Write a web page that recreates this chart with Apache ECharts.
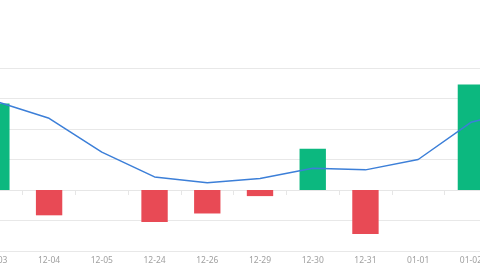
<!DOCTYPE html>
<html lang="en">
<head>
    <meta charset='utf-8' />
    <title>daily change</title>
    <script src="https://cdn.jsdelivr.net/npm/echarts@6/dist/echarts.min.js"></script>
    <style>
        html, body { margin: 0; padding: 0; background: #fff; overflow: hidden; width: 480px; height: 270px; }
        /* the chart is wider than the window; only the middle part shows */
        #chart { position: absolute; left: -30px; top: 0; width: 580px; height: 270px; }
    </style>
</head>
<body>
<div id="chart"></div>
<script>
    // dates on the category axis
    var days = ['12-03', '12-04', '12-05', '12-24', '12-26', '12-29', '12-30', '12-31', '01-01', '01-02', '01-03'];
    // daily change (bars)
    var change = [2.84, -0.83, 0, -1.05, -0.77, -0.2, 1.35, -1.44, 0, 3.46, 0];
    // running value (line)
    var trend = [2.9, 2.35, 1.24, 0.43, 0.24, 0.38, 0.71, 0.66, 1.0, 2.22, 2.64];

    var myChart = echarts.init(document.getElementById('chart'));

    var option = {
        animation: false,
        grid: {
            left: 0,
            right: 0,
            top: 68,
            bottom: 19,
            outerBoundsMode: 'none'
        },
        xAxis: [
            {
                // axis line sitting on zero, ticks only
                type: 'category',
                data: days,
                axisLine: { onZero: true, lineStyle: { color: '#e6e6e6' } },
                axisTick: { show: true, lineStyle: { color: '#e6e6e6' } },
                axisLabel: { show: false }
            },
            {
                // labels along the bottom
                type: 'category',
                data: days,
                position: 'bottom',
                axisLine: { show: false, onZero: false },
                axisTick: { show: false },
                axisLabel: { color: '#a0a0a0', fontSize: 8.5, margin: 5, fontFamily: 'Noto Sans' }
            }
        ],
        yAxis: {
            type: 'value',
            min: -2,
            max: 4,
            interval: 1,
            axisLabel: { show: false },
            axisLine: { show: false },
            axisTick: { show: false },
            splitLine: { lineStyle: { color: '#e8e8e8' } }
        },
        series: [
            {
                type: 'bar',
                barWidth: '50%',
                data: change.map(function (v) {
                    return {
                        value: v,
                        itemStyle: { color: v >= 0 ? '#0cb87f' : '#e84a55' }
                    };
                })
            },
            {
                type: 'line',
                data: trend,
                showSymbol: false,
                lineStyle: { color: '#3c7fd8', width: 1.5 },
                itemStyle: { color: '#3c7fd8' }
            }
        ]
    };

    myChart.setOption(option);
</script>
</body>
</html>
